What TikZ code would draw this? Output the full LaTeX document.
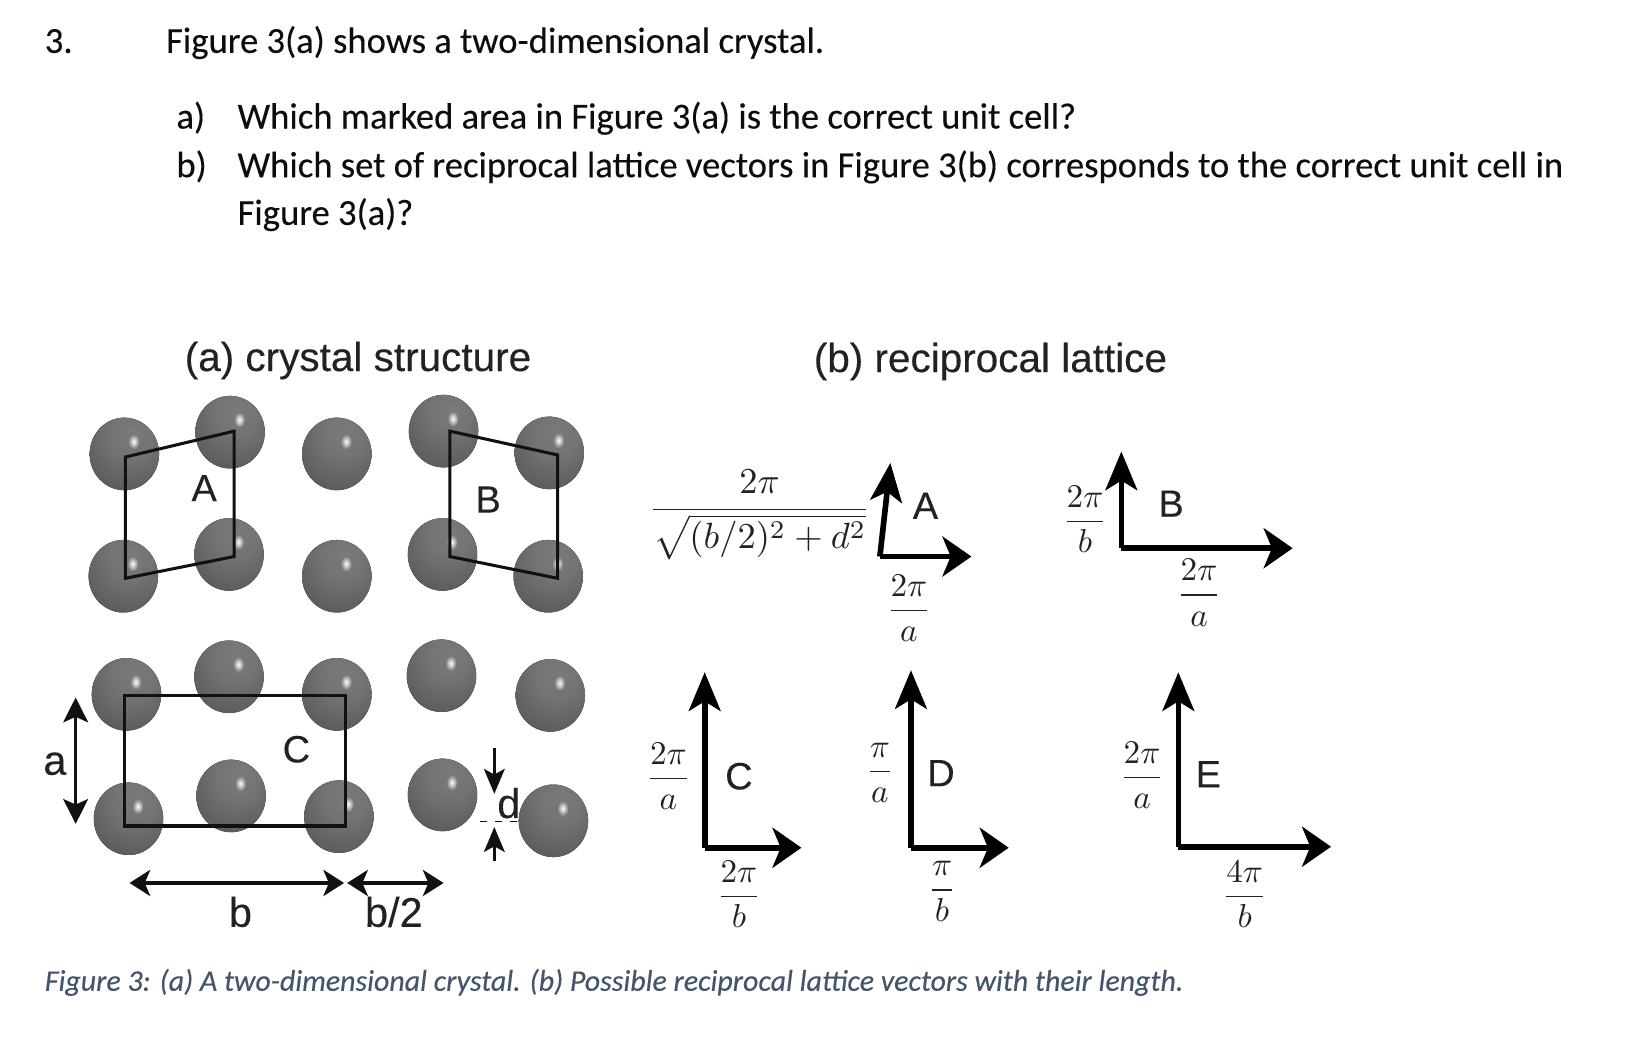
\documentclass[tikz,border=0pt]{standalone}
\usepackage[no-math]{fontspec}
\usepackage{amsmath}
\usetikzlibrary{arrows.meta,calc}
\setmainfont{Carlito}[FakeBold=0.25]
\newfontfamily\arialf{Liberation Sans}[FakeBold=0.2]
\definecolor{capblue}{HTML}{44546A}
\definecolor{inkd}{HTML}{111111}
\definecolor{labgray}{HTML}{222222}
\pgfdeclareradialshading{sphereshade}{\pgfpoint{6bp}{16bp}}{%
 color(0bp)=(black!52); color(16bp)=(black!55); color(36bp)=(black!64); color(52bp)=(black!73); color(66bp)=(black!82); color(100bp)=(black!84)}
\newcommand{\ball}[2]{%
 \fill[shading=sphereshade] (#1,#2) ellipse [x radius=33.5,y radius=35];
 \shade[inner color=white,outer color=black!54] ($(#1,#2)+(9,-12)$) ellipse [x radius=5.5,y radius=7.5];}
\tikzset{
 body/.style={anchor=base west,inner sep=0pt,font=\fontsize{26.5}{30}\selectfont,text=black!95},
 capt/.style={anchor=base west,inner sep=0pt,font=\fontsize{21.65}{24}\selectfont\itshape,text=capblue},
 head/.style={anchor=base west,inner sep=0pt,font=\arialf\fontsize{29.3}{32}\selectfont,text=labgray},
 letter/.style={inner sep=0pt,font=\arialf\fontsize{27.5}{30}\selectfont,text=labgray},
 dimlab/.style={inner sep=0pt,font=\arialf\fontsize{30}{32}\selectfont,text=labgray},
 mlab/.style={inner sep=0pt,scale=2.4,text=labgray},
 cell/.style={draw=inkd,line width=2.2pt,line join=miter},
 dimh/.style={draw=inkd,line width=2.2pt,{Stealth[length=15pt,width=19pt,inset=4pt]}-{Stealth[length=15pt,width=19pt,inset=4pt]}},
 dimv/.style={draw=inkd,line width=2.2pt,{Stealth[length=18pt,width=18pt,inset=4pt]}-{Stealth[length=18pt,width=18pt,inset=4pt]}},
 dimone/.style={draw=inkd,line width=2.2pt,-{Stealth[length=18pt,width=15pt,inset=4pt]}},
 vecx/.style={draw=black,line width=4.1pt,-{Stealth[length=21pt,width=29pt,inset=6pt]},shorten >=-1pt},
 vecy/.style={draw=black,line width=4.1pt,-{Stealth[length=28pt,width=23pt,inset=7pt]},shorten >=-1pt},
}
\begin{document}
\begin{tikzpicture}[x=0.75pt,y=-0.75pt]
\useasboundingbox (0,0) rectangle (1568,1017);
% question text
\node[body] (qn) at (43,51) {3.};
\node[body] (q0) at (160,51) {Figure 3(a) shows a two-dimensional crystal.};
\node[body] (qal) at (170,124) {a)};
\node[body] (qa) at (229,124) {Which marked area in Figure 3(a) is the correct unit cell?};
\node[body] (qbl) at (170,171) {b)};
\node[body] (qb) at (229,171) {Which set of reciprocal lattice vectors in Figure 3(b) corresponds to the correct unit cell in};
\node[body] (qb2) at (229,217) {Figure 3(a)?};
\node[head] (ha) at (178,358) {(a) crystal structure};
\node[head] (hb) at (785,359) {(b) reciprocal lattice};
\node[capt] (cap) at (43,956) {Figure 3: (a) A two-dimensional crystal. (b) Possible reciprocal lattice vectors with their length.};
% spheres
\ball{120}{438}\ball{222}{417}\ball{325}{438}\ball{428}{416}\ball{530}{437}
\ball{119}{556}\ball{221}{535}\ball{325}{556}\ball{427}{535}\ball{529}{556}
\ball{122}{670}\ball{221}{653}\ball{325}{670}\ball{426}{652}\ball{531}{671}
\ball{124}{790}\ball{223}{768}\ball{327}{788}\ball{427}{767}\ball{534}{792}
% cells
\coordinate (a1) at (121,441);\coordinate (a2) at (226,416);\coordinate (a3) at (226,537);\coordinate (a4) at (121,558);
\draw[cell] (a1) -- (a2) -- (a3) -- (a4) -- cycle;
\coordinate (b1) at (434,416);\coordinate (b2) at (538,439);\coordinate (b3) at (538,558);\coordinate (b4) at (434,537);
\draw[cell] (b1) -- (b2) -- (b3) -- (b4) -- cycle;
\coordinate (c1) at (120,671);\coordinate (c2) at (333,671);\coordinate (c3) at (333,797);\coordinate (c4) at (120,797);
\draw[cell] (c1) -- (c2) -- (c3) -- (c4) -- cycle;
\node[letter] (la) at (197,471) {A};
\node[letter] (lb) at (471,482) {B};
\node[letter] (lc) at (286,723) {C};
% dimensions
\coordinate (ta) at (73,673);\coordinate (ba) at (73,795);
\draw[dimv] (ta) -- (ba);
\node[dimlab] (da) at (53,737) {a};
\coordinate (lb1) at (125,852);\coordinate (lb2) at (332,852);\coordinate (lb3) at (335,852);\coordinate (lb4) at (428,852);
\draw[dimh] (lb1) -- (lb2);
\draw[dimh] (lb3) -- (lb4);
\node[dimlab] (db) at (232,880) {b};
\node[dimlab] (db2) at (380,880) {b/2};
\coordinate (d1) at (477,722);\coordinate (d2) at (477,766);\coordinate (d3) at (477,831);\coordinate (d4) at (477,798);
\draw[dimone] (d1) -- (d2);
\draw[dimone] (d3) -- (d4);
\coordinate (dl) at (463,793);\coordinate (dr) at (505,793);
\draw[draw=inkd,line width=0.9pt,dash pattern=on 5pt off 6pt] (dl) -- (dr);
\node[dimlab] (dd) at (491,775) {d};
% reciprocal A
\coordinate (oa) at (849,537);\coordinate (oax) at (936,537);\coordinate (oay) at (859,448);
\draw[vecx] (oa) -- (oax);\draw[vecy] (oa) -- (oay);
\node[letter] (va) at (893,488) {A};
\node[mlab,scale=1.1] (ma1) at (733,497) {$\dfrac{2\pi}{\sqrt{(b/2)^2+d^2}}$};
\node[mlab] (ma2) at (877,587) {$\dfrac{2\pi}{a}$};
% reciprocal B
\coordinate (ob) at (1082,529);\coordinate (obx) at (1246,529);\coordinate (oby) at (1082,437);
\draw[vecx] (ob) -- (obx);\draw[vecy] (ob) -- (oby);
\node[letter] (vb) at (1130,486) {B};
\node[mlab] (mb1) at (1047,501) {$\dfrac{2\pi}{b}$};
\node[mlab] (mb2) at (1157,572) {$\dfrac{2\pi}{a}$};
% reciprocal C
\coordinate (oc) at (680,818);\coordinate (ocx) at (772,818);\coordinate (ocy) at (680,650);
\draw[vecx] (oc) -- (ocx);\draw[vecy] (oc) -- (ocy);
\node[letter] (vc) at (713,749) {C};
\node[mlab] (mc1) at (645,749) {$\dfrac{2\pi}{a}$};
\node[mlab] (mc2) at (713,863) {$\dfrac{2\pi}{b}$};
% reciprocal D
\coordinate (od) at (879,818);\coordinate (odx) at (972,818);\coordinate (ody) at (879,648);
\draw[vecx] (od) -- (odx);\draw[vecy] (od) -- (ody);
\node[letter] (vd) at (908,746) {D};
\node[mlab] (md1) at (849,746) {$\dfrac{\pi}{a}$};
\node[mlab] (md2) at (909,860) {$\dfrac{\pi}{b}$};
% reciprocal E
\coordinate (oe) at (1137,817);\coordinate (oex) at (1283,817);\coordinate (oey) at (1137,650);
\draw[vecx] (oe) -- (oex);\draw[vecy] (oe) -- (oey);
\node[letter] (ve) at (1166,747) {E};
\node[mlab] (me1) at (1102,748) {$\dfrac{2\pi}{a}$};
\node[mlab] (me2) at (1201,863) {$\dfrac{4\pi}{b}$};
\end{tikzpicture}
\end{document}
